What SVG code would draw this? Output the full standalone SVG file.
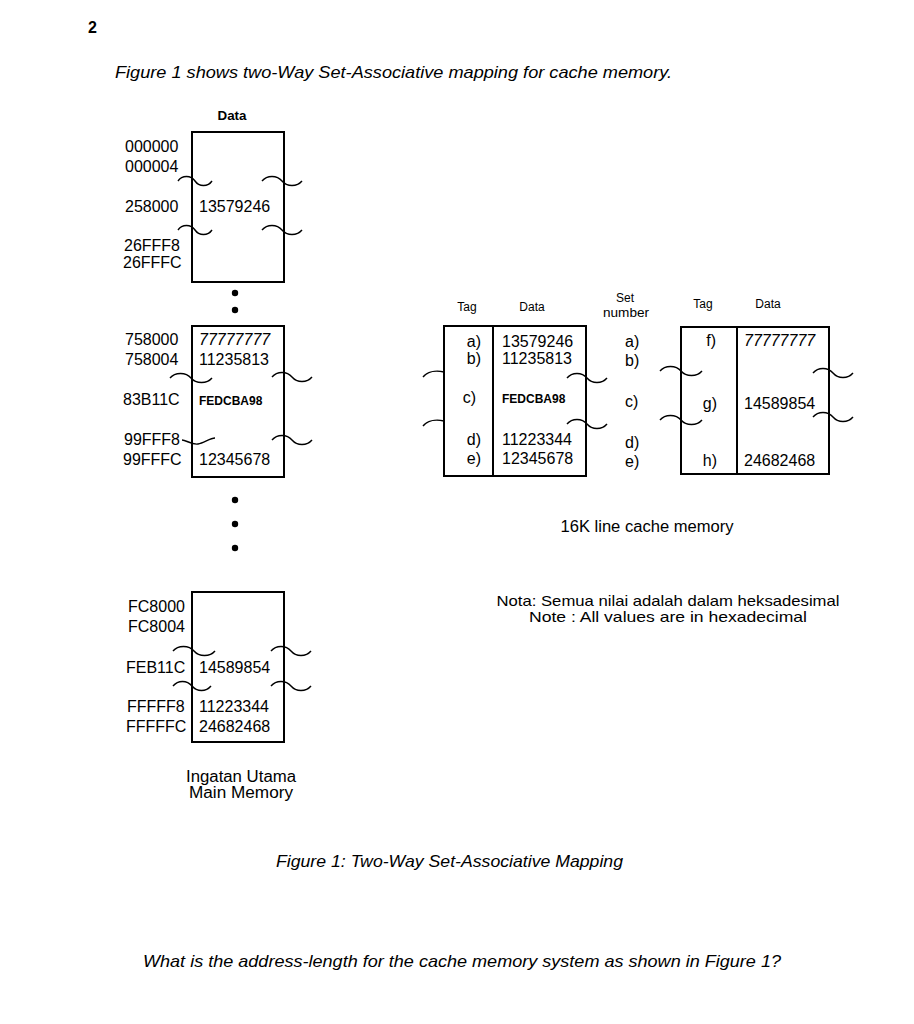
<svg xmlns="http://www.w3.org/2000/svg" width="914" height="1024" viewBox="0 0 914 1024">
<style>
text{font-family:"Liberation Sans",Arial,sans-serif;fill:#000}
.t{font-size:16px}
.it{font-size:17px;font-style:italic}
.bx{fill:none;stroke:#000;stroke-width:2}
.ln{stroke:#000;stroke-width:2}
.wave{fill:none;stroke:#000;stroke-width:1.4}
.sm{font-size:12px}
.hb{font-size:12px;font-weight:bold}
.fb{font-size:12px;font-weight:bold}
.sev{font-size:16px;font-style:italic}
.end{text-anchor:end}
.mid{text-anchor:middle}
</style>
<rect width="914" height="1024" fill="#fff"/>
<text x="88" y="33" style="font-size:16px;font-weight:bold">2</text>
<text x="115" y="78" class="it" textLength="557" lengthAdjust="spacingAndGlyphs">Figure 1 shows two-Way Set-Associative mapping for cache memory.</text>

<g id="main-top">
<text x="232" y="120" class="hb mid" textLength="29" lengthAdjust="spacingAndGlyphs">Data</text>
<rect x="192" y="132" width="92" height="150" class="bx"/>
<text x="125" y="152" class="t">000000</text>
<text x="125" y="172" class="t">000004</text>
<text x="125" y="212" class="t">258000</text>
<text x="199" y="212" class="t">13579246</text>
<text x="124" y="251" class="t">26FFF8</text>
<text x="123" y="268" class="t">26FFFC</text>
</g>

<g id="main-mid">
<rect x="192" y="326" width="92" height="151" class="bx"/>
<text x="125" y="345" class="t">758000</text>
<text x="199" y="345" class="sev">77777777</text>
<text x="125" y="365" class="t">758004</text>
<text x="199" y="365" class="t">11235813</text>
<text x="123" y="405" class="t">83B11C</text>
<text x="199" y="405" class="fb">FEDCBA98</text>
<text x="124" y="445" class="t">99FFF8</text>
<text x="123" y="465" class="t">99FFFC</text>
<text x="199" y="465" class="t">12345678</text>
</g>

<g id="main-bottom">
<rect x="192" y="592" width="92" height="150" class="bx"/>
<text x="128" y="612" class="t">FC8000</text>
<text x="128" y="632" class="t">FC8004</text>
<text x="126" y="673" class="t">FEB11C</text>
<text x="199" y="673" class="t">14589854</text>
<text x="127" y="712" class="t">FFFFF8</text>
<text x="199" y="712" class="t">11223344</text>
<text x="126" y="732" class="t">FFFFFC</text>
<text x="199" y="732" class="t">24682468</text>
<text x="241" y="782" class="t mid" textLength="110" lengthAdjust="spacingAndGlyphs">Ingatan Utama</text>
<text x="241" y="798" class="t mid" textLength="104" lengthAdjust="spacingAndGlyphs">Main Memory</text>
</g>

<g id="ellipsis">
<circle cx="235" cy="293" r="3.2"/>
<circle cx="235" cy="310" r="3.2"/>
<circle cx="235" cy="500" r="3.2"/>
<circle cx="235" cy="524" r="3.2"/>
<circle cx="235" cy="548" r="3.2"/>
</g>

<g id="cache-way1">
<text x="467" y="311" class="sm mid">Tag</text>
<text x="532" y="311" class="sm mid">Data</text>
<rect x="444" y="326" width="142" height="150" class="bx"/>
<line x1="493" y1="326" x2="493" y2="476" class="ln"/>
<text x="481" y="347" class="t end">a)</text>
<text x="481" y="364" class="t end">b)</text>
<text x="476" y="403" class="t end">c)</text>
<text x="481" y="445" class="t end">d)</text>
<text x="481" y="464" class="t end">e)</text>
<text x="502" y="347" class="t">13579246</text>
<text x="502" y="364" class="t">11235813</text>
<text x="502" y="403" class="fb">FEDCBA98</text>
<text x="502" y="445" class="t">11223344</text>
<text x="502" y="464" class="t">12345678</text>
</g>

<g id="set-number">
<text x="625" y="302" class="sm mid">Set</text>
<text x="626" y="317" class="sm mid" textLength="46" lengthAdjust="spacingAndGlyphs">number</text>
<text x="625" y="347" class="t">a)</text>
<text x="625" y="366" class="t">b)</text>
<text x="625" y="407" class="t">c)</text>
<text x="625" y="448" class="t">d)</text>
<text x="625" y="467" class="t">e)</text>
</g>

<g id="cache-way2">
<text x="703" y="308" class="sm mid">Tag</text>
<text x="768" y="308" class="sm mid">Data</text>
<rect x="681" y="327" width="148" height="147" class="bx"/>
<line x1="737" y1="327" x2="737" y2="474" class="ln"/>
<text x="716" y="346" class="t end">f)</text>
<text x="717" y="409" class="t end">g)</text>
<text x="717" y="466" class="t end">h)</text>
<text x="744" y="346" class="sev">77777777</text>
<text x="744" y="409" class="t">14589854</text>
<text x="744" y="466" class="t">24682468</text>
<text x="647" y="532" class="t mid" textLength="173" lengthAdjust="spacingAndGlyphs">16K line cache memory</text>
</g>

<g id="connectors">
<path class="wave" d="M178,181 c4,-6 13,-6 17,0 s13,6 17,0"/>
<path class="wave" d="M262,181 c5,-6 15,-6 20,0 s15,6 20,0"/>
<path class="wave" d="M178,230 c4,-6 13,-6 17,0 s13,6 17,0"/>
<path class="wave" d="M262,230 c5,-6 15,-6 20,0 s15,6 20,0"/>
<path class="wave" d="M170,378 c5,-6 16,-6 21,0 s16,6 21,0"/>
<path class="wave" d="M272,377 c5,-6 15,-6 20,0 s15,6 20,0"/>
<path class="wave" d="M182,440 c4,0 10,5 16,4 s12,-6 17,-6"/>
<path class="wave" d="M272,440 c5,-6 15,-6 20,0 s15,6 20,0"/>
<path class="wave" d="M173,651 c5,-6 16,-6 21,0 s16,6 21,0"/>
<path class="wave" d="M271,651 c5,-6 15,-6 20,0 s15,6 20,0"/>
<path class="wave" d="M173,686 c5,-6 14,-6 19,0 s14,6 19,0"/>
<path class="wave" d="M271,686 c5,-6 15,-6 20,0 s15,6 20,0"/>
<path class="wave" d="M423,377 c4,-5 12,-7 21,-5"/>
<path class="wave" d="M423,426 c4,-5 12,-7 21,-5"/>
<path class="wave" d="M567,378 c5,-6 15,-6 20,0 s15,6 20,0"/>
<path class="wave" d="M567,424 c5,-6 15,-6 20,0 s15,6 20,0"/>
<path class="wave" d="M660,371 c5,-6 16,-6 21,0 s16,6 21,0"/>
<path class="wave" d="M660,420 c5,-6 16,-6 21,0 s16,6 21,0"/>
<path class="wave" d="M813,373 c5,-6 15,-6 20,0 s15,6 20,0"/>
<path class="wave" d="M813,417 c5,-6 15,-6 20,0 s15,6 20,0"/>
</g>

<text x="668" y="606" class="mid" style="font-size:15px" textLength="343" lengthAdjust="spacingAndGlyphs">Nota: Semua nilai adalah dalam heksadesimal</text>
<text x="668" y="622" class="mid" style="font-size:15px" textLength="278" lengthAdjust="spacingAndGlyphs">Note : All values are in hexadecimal</text>
<text x="276" y="867" class="it" textLength="347" lengthAdjust="spacingAndGlyphs">Figure 1: Two-Way Set-Associative Mapping</text>
<text x="143" y="967" class="it" textLength="638" lengthAdjust="spacingAndGlyphs">What is the address-length for the cache memory system as shown in Figure 1?</text>
</svg>
